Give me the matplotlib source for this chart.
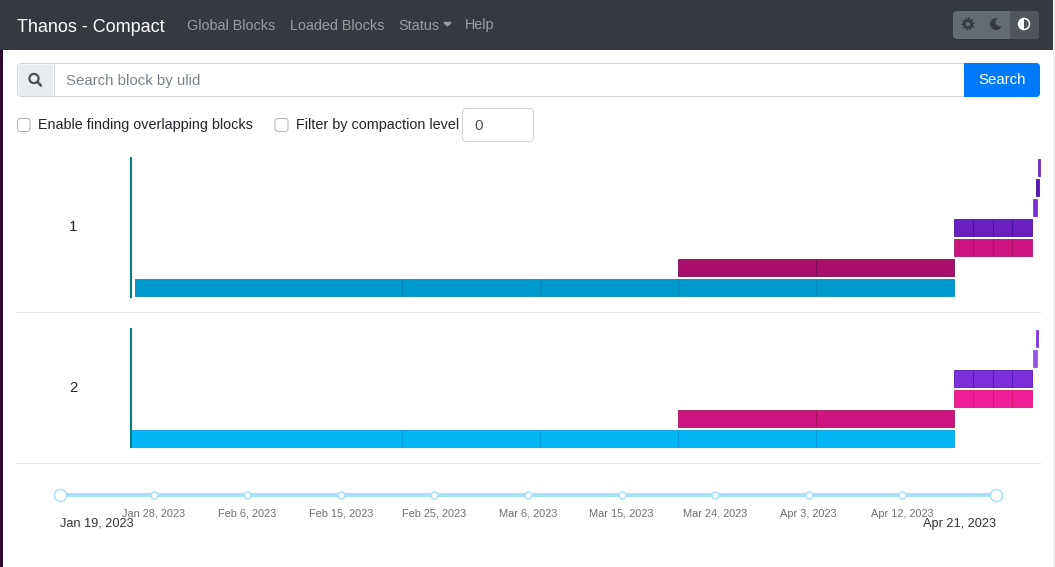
import matplotlib
matplotlib.use("Agg")
import matplotlib.pyplot as plt
from matplotlib.patches import Rectangle, FancyBboxPatch, Circle, Wedge

# block lanes, offsets are days since Jan 19 2023
row_labels = ["1", "2"]
row1_lanes = [
    [(0.4, 27.4), (27.4, 41.4), (41.4, 55.35), (55.35, 69.3), (69.3, 83.3)],
    [(55.4, 69.3), (69.3, 83.3)],
    [(83.25, 85.2), (85.2, 87.2), (87.2, 89.2), (89.2, 91.2)],
    [(83.25, 85.2), (85.2, 87.2), (87.2, 89.2), (89.2, 91.2)],
    [(91.25, 91.65)],
    [(91.55, 91.7), (91.7, 91.85)],
    [(91.8, 91.9), (91.9, 92.0)],
]
row2_lanes = [
    [(0.0, 27.4), (27.4, 41.4), (41.4, 55.35), (55.35, 69.3), (69.3, 83.3)],
    [(55.4, 69.3), (69.3, 83.3)],
    [(83.25, 85.2), (85.2, 87.2), (87.2, 89.2), (89.2, 91.2)],
    [(83.25, 85.2), (85.2, 87.2), (87.2, 89.2), (89.2, 91.2)],
    [(91.25, 91.65)],
    [(91.55, 91.65), (91.65, 91.75)],
]
row1_colors = ["#0099cc", "#a70f6b", "#cc1380", "#6a1fc0", "#7d2edb", "#6a1fc0", "#9a6ad8"]
row1_edges = ["#0086b8", "#7d0a50", "#a80f5e", "#45109c", "#7d2edb", "#45109c", "#6a1fc0"]
row2_colors = ["#00b6f5", "#cd1480", "#ee1f96", "#7d2edb", "#9457e3", "#a67be6"]
row2_edges = ["#0099dd", "#a30f55", "#d80f66", "#4f12b8", "#9457e3", "#7d2edb"]

slider_days = [9.2, 18.4, 27.6, 36.8, 46.0, 55.2, 64.4, 73.6, 82.8]
slider_labels = ["Jan 28, 2023", "Feb 6, 2023", "Feb 15, 2023", "Feb 25, 2023", "Mar 6, 2023",
                 "Mar 15, 2023", "Mar 24, 2023", "Apr 3, 2023", "Apr 12, 2023"]
slider_start = "Jan 19, 2023"
slider_end = "Apr 21, 2023"

W, H = 1055, 567
plt.rcParams["font.family"] = ["Liberation Sans", "DejaVu Sans"]
fig = plt.figure(figsize=(W / 100, H / 100), dpi=100)

# page layer in pixel coordinates
page = fig.add_axes([0, 0, 1, 1])
page.set_xlim(0, W)
page.set_ylim(H, 0)
page.axis("off")


def px(size):
    return size * 0.72


def box(x0, y0, x1, y1, fc, ec="none", lw=1, r=0):
    if r:
        p = FancyBboxPatch((x0 + r, y0 + r), x1 - x0 - 2 * r, y1 - y0 - 2 * r,
                           boxstyle=f"round,pad={r},rounding_size={r}", fc=fc, ec=ec, lw=px(lw))
    else:
        p = Rectangle((x0, y0), x1 - x0, y1 - y0, fc=fc, ec=ec, lw=px(lw))
    page.add_patch(p)


def label(x, y, s, size, color, ha="left"):
    page.text(x, y, s, fontsize=px(size), color=color, ha=ha, va="center_baseline")


# desktop edges behind the page
box(0, 50, 3, H, "#2c0a2c")
box(1053, 0, W, H, "#f1f1f1")

# navbar
box(0, 0, 1053, 50, "#343a40")
label(17, 25, "Thanos - Compact", 18, "white")
label(187, 24, "Global Blocks", 14.4, "#9a9da0")
label(289.5, 24, "Loaded Blocks", 14.4, "#9a9da0")
label(398.5, 24, "Status", 14.4, "#9a9da0")
page.fill([444, 451, 447.5], [22.5, 22.5, 26], color="#9a9da0")
label(465, 24, "Help", 14.4, "#9a9da0")

# theme switch
box(953, 11, 1039, 39, "#656b73", r=4)
box(1010, 11, 1039, 39, "#50555b", r=4)
box(1010, 11, 1016, 39, "#50555b")
page.add_patch(Circle((968, 24), 3.6, fc="none", ec="#343a40", lw=px(2.5)))
page.add_patch(Circle((968, 24), 5.6, fc="none", ec="#343a40", lw=px(1.8), ls=(0, (1, 1))))
page.add_patch(Circle((996, 24), 6, fc="#343a40", ec="none"))
page.add_patch(Circle((1000, 22), 4.5, fc="#656b73", ec="none"))
page.add_patch(Circle((1024, 24), 5.5, fc="#50555b", ec="white", lw=px(1.5)))
page.add_patch(Wedge((1024, 24), 5.5, 90, 270, fc="white", ec="none"))

# search row
box(17.5, 63.5, 1000, 96.5, "white", ec="#ced4da", r=4)
box(18.5, 64.5, 53, 96, "#e9ecef", r=3)
box(40, 64.5, 53, 96, "#e9ecef")
page.plot([53.5, 53.5], [64, 96], color="#ced4da", lw=px(1))
page.add_patch(Circle((34, 78.5), 4.6, fc="none", ec="#495057", lw=px(2.2)))
page.plot([37.5, 41], [82, 85.5], color="#495057", lw=px(2.6), solid_capstyle="round")
label(66, 80, "Search block by ulid", 15, "#7b848c")
box(975, 63, 1040, 97, "#007bff", r=4)
box(964, 63, 985, 97, "#007bff")
label(1002, 79, "Search", 15, "white", ha="center")

# filters
box(17.5, 118.5, 30, 131.5, "white", ec="#adb5bd", r=3)
label(38, 124, "Enable finding overlapping blocks", 14.4, "#212529")
box(275, 118.5, 288, 131.5, "white", ec="#adb5bd", r=3)
label(296, 124, "Filter by compaction level", 14.4, "#212529")
box(462.5, 108.5, 533.5, 141.5, "white", ec="#ced4da", r=4)
label(474, 125, "0", 15, "#495057")

# row separators and row labels
for y in [312.2, 463.2]:
    page.plot([17, 1040], [y, y], color="#e6e6e6", lw=px(1))
label(73, 225.5, row_labels[0], 15, "#212529", ha="center")
label(73, 387, row_labels[1], 15, "#212529", ha="center")


def block_axes(top, bottom, y_low, y_high):
    ax = fig.add_axes([131 / W, 1 - bottom / H, (1040 - 131) / W, (bottom - top) / H])
    ax.set_xlim(0, 92)
    ax.set_ylim(y_low, y_high)
    ax.patch.set_alpha(0)
    for side in ["top", "right", "bottom"]:
        ax.spines[side].set_visible(False)
    ax.spines["left"].set_color("#008080")
    ax.spines["left"].set_linewidth(px(2))
    ax.spines["left"].set_capstyle("butt")
    ax.set_xticks([])
    ax.set_yticks([])
    return ax


def draw_lanes(ax, lanes, colors, edges):
    for i, lane in enumerate(lanes):
        for start, end in lane:
            ax.barh(i, end - start, left=start, height=0.82, color=colors[i],
                    edgecolor=edges[i], linewidth=px(0.8), clip_on=False)


ax1 = block_axes(157, 298, -0.525, 6.525)
draw_lanes(ax1, row1_lanes, row1_colors, row1_edges)
ax2 = block_axes(328, 448, -0.475, 5.525)
draw_lanes(ax2, row2_lanes, row2_colors, row2_edges)

# time range slider
slider = fig.add_axes([60 / W, 1 - 515 / H, (996 - 60) / W, 40 / H])
slider.set_xlim(0, 92)
slider.set_ylim(0, 40)
slider.axis("off")
track_y = 20
slider.plot([0, 92], [track_y, track_y], color="#a6e1fa", lw=px(4), zorder=1, clip_on=False)
slider.plot(slider_days, [track_y] * len(slider_days), "o", ms=px(7), mfc="white",
            mec="#a6e1fa", mew=px(1.5), zorder=2)
slider.plot([0, 92], [track_y, track_y], "o", ms=px(12), mfc="white",
            mec="#a6e1fa", mew=px(1.5), zorder=3, clip_on=False)
for day, text in zip(slider_days, slider_labels):
    slider.text(day, 2, text, fontsize=px(11), color="#6f6f6f", ha="center", va="center_baseline")
label(60, 522, slider_start, 12.8, "#333333")
label(996, 522, slider_end, 12.8, "#333333", ha="right")

fig.savefig("out.png", dpi=100)
